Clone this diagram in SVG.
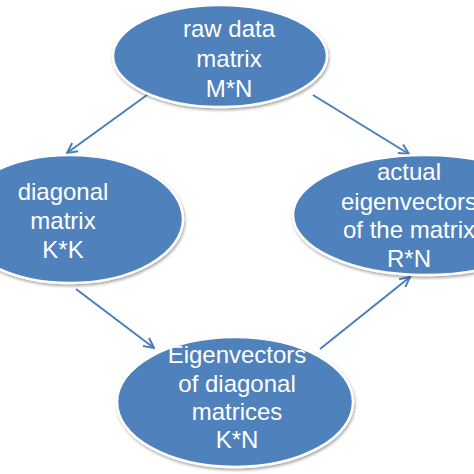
<svg xmlns="http://www.w3.org/2000/svg" width="474" height="474" viewBox="0 0 474 474">
<defs>
<filter id="sh" x="-20%" y="-20%" width="140%" height="140%">
<feGaussianBlur in="SourceAlpha" stdDeviation="1.5"/>
<feOffset dx="1" dy="2" result="b"/>
<feComponentTransfer><feFuncA type="linear" slope="0.35"/></feComponentTransfer>
<feMerge><feMergeNode/><feMergeNode in="SourceGraphic"/></feMerge>
</filter>
<marker id="ah" viewBox="0 0 12 12" refX="11" refY="6" markerWidth="12" markerHeight="12" markerUnits="userSpaceOnUse" orient="auto">
<path d="M1,1 L11,6 L1,11" fill="none" stroke="#4a7ebb" stroke-width="2"/>
</marker>
<style>
.n ellipse{fill:#4f81bd;stroke:#ffffff;stroke-width:2.5;filter:url(#sh)}
.n text{fill:#ffffff;font-family:"Liberation Sans",Arial,sans-serif;font-size:24px;text-anchor:middle}
.c line{stroke:#4a7ebb;stroke-width:2;marker-end:url(#ah)}
</style>
</defs>
<rect width="474" height="474" fill="#ffffff"/>
<g id="connectors" class="c">
<line x1="147" y1="95" x2="67" y2="153"/>
<line x1="313" y1="95" x2="409" y2="154"/>
<line x1="76" y1="289" x2="154" y2="348"/>
<line x1="320" y1="349" x2="410" y2="277"/>
</g>
<g id="raw" class="n">
<ellipse cx="220" cy="56" rx="107" ry="51"/>
<text x="229" y="37">raw data</text>
<text x="229" y="67">matrix</text>
<text x="229" y="97">M*N</text>
</g>
<g id="diag" class="n">
<ellipse cx="70" cy="219" rx="113" ry="64"/>
<text x="63" y="200">diagonal</text>
<text x="63" y="229">matrix</text>
<text x="63" y="258">K*K</text>
</g>
<g id="actual" class="n">
<ellipse cx="425" cy="215" rx="132" ry="60"/>
<text x="409" y="180">actual</text>
<text x="409" y="210">eigenvectors</text>
<text x="409" y="238">of the matrix</text>
<text x="409" y="267">R*N</text>
</g>
<g id="eig" class="n">
<ellipse cx="235" cy="402" rx="118" ry="65"/>
<text x="237" y="363">Eigenvectors</text>
<text x="237" y="392">of diagonal</text>
<text x="237" y="420">matrices</text>
<text x="237" y="448">K*N</text>
</g>
</svg>
